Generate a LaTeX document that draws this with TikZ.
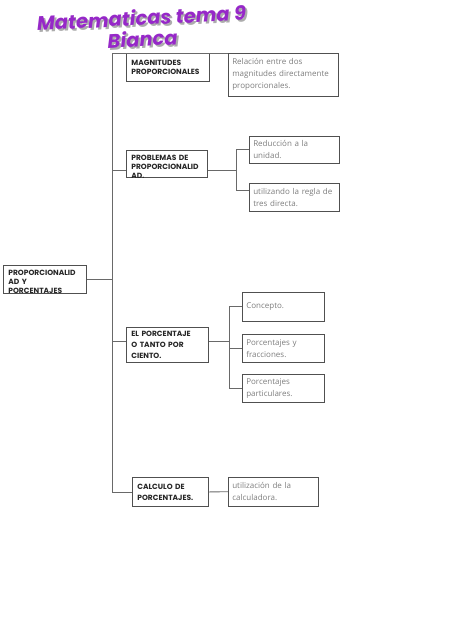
\documentclass[tikz,border=0pt]{standalone}
\usepackage{fontspec}
\setmainfont{Open Sans}
\newfontfamily\headfont{Poppins}
\newfontfamily\titlefont{Poppins}
\usetikzlibrary{positioning}

\definecolor{boxgray}{RGB}{80,80,80}
\definecolor{linegray}{RGB}{105,105,105}
\definecolor{notegray}{RGB}{125,125,125}
\definecolor{titlepurple}{RGB}{150,40,200}

\begin{document}
\begin{tikzpicture}[
  x=1pt, y=-1pt,
  headbox/.style={draw=boxgray, line width=0.8pt, anchor=north west, align=left,
    inner xsep=5pt, inner ysep=3pt,
    font=\headfont\bfseries\fontsize{7.5}{9}\selectfont, text=black!85},
  loose/.style={font=\headfont\bfseries\fontsize{7.5}{11}\selectfont},
  notebox/.style={draw=boxgray, line width=0.6pt, anchor=north west, align=left,
    inner xsep=4pt, inner ysep=2pt, font=\fontsize{8}{12}\selectfont, text=notegray},
  titletext/.style={font=\titlefont\bfseries\itshape\fontsize{19.5}{21}\selectfont,
    align=center, rotate=3},
  link/.style={draw=linegray, line width=0.8pt}
]
\useasboundingbox (0,0) rectangle (452,640);

% title
\node[titletext, text=gray!65] (title shadow) at (144,30) {Matematicas tema 9\\Bianca};
\node[titletext, text=titlepurple] (title) at (142,28) {Matematicas tema 9\\Bianca};

% left root, text cut off by the box
\begin{scope}
  \clip (2,264) rectangle (87,293.4);
  \node[headbox, text width=73pt, text height=7pt, text depth=15pt] (root) at (3,265)
    {PROPORCIONALID\\AD Y\\PORCENTAJES};
\end{scope}

% first branch
\node[headbox, text width=73pt, minimum height=28pt] (mag) at (126,53)
  {MAGNITUDES\\PROPORCIONALES};
\node[notebox, text width=102pt, minimum height=43pt] (rel) at (228,53)
  {Relación entre dos\\magnitudes directamente\\proporcionales.};

% second branch
\begin{scope}
  \clip (125,149) rectangle (208,177.4);
  \node[headbox, text width=71pt, text height=7pt, text depth=14pt] (prob) at (126,150)
    {PROBLEMAS DE\\PROPORCIONALID\\AD.};
\end{scope}
\node[notebox, text width=82pt, minimum height=27pt] (red) at (249,136)
  {Reducción a la\\unidad.};
\node[notebox, text width=82pt, minimum height=28pt] (util) at (249,183)
  {utilizando la regla de\\tres directa.};

% third branch
\node[headbox, loose, text width=72pt, minimum height=35pt] (porc) at (126,327)
  {EL PORCENTAJE\\O TANTO POR\\CIENTO.};
\node[notebox, text width=74pt, minimum height=29pt] (conc) at (242,292) {Concepto.};
\node[notebox, text width=74pt, minimum height=28pt] (frac) at (242,334)
  {Porcentajes y\\fracciones.};
\node[notebox, text width=74pt, minimum height=28pt] (part) at (242,374)
  {Porcentajes\\particulares.};

% fourth branch
\node[headbox, loose, text width=66pt, minimum height=29pt] (calc) at (132,477)
  {CALCULO DE\\PORCENTAJES.};
\node[notebox, text width=82pt, minimum height=29pt] (calcu) at (228,477)
  {utilización de la\\calculadora.};

% connectors
\coordinate (top) at (112,53);
\coordinate (pj) at (236,170);
\coordinate (uj) at (236,190);
\coordinate (cj) at (229,341);

\draw[link] (top) -- (rel.north west);
\draw[link] (top) -- (top |- calc.west) -- (calc.west);
\draw[link] (root.east) -- (root.east -| top);

\draw[link] (top |- pj) -- (prob.west |- pj);
\draw[link] (prob.east |- pj) -- (pj);
\draw[link] (red.west -| pj) -- (red.west);
\draw[link] (red.west -| pj) -- (uj) -- (uj -| util.west);

\draw[link] (top |- cj) -- (porc.west |- cj);
\draw[link] (porc.east |- cj) -- (cj);
\draw[link] (conc.west -| cj) -- (part.west -| cj);
\foreach \n in {conc,frac,part}
  \draw[link] (\n.west -| cj) -- (\n.west);

\draw[link] (calc.east) -- (calcu.west);

\end{tikzpicture}
\end{document}
